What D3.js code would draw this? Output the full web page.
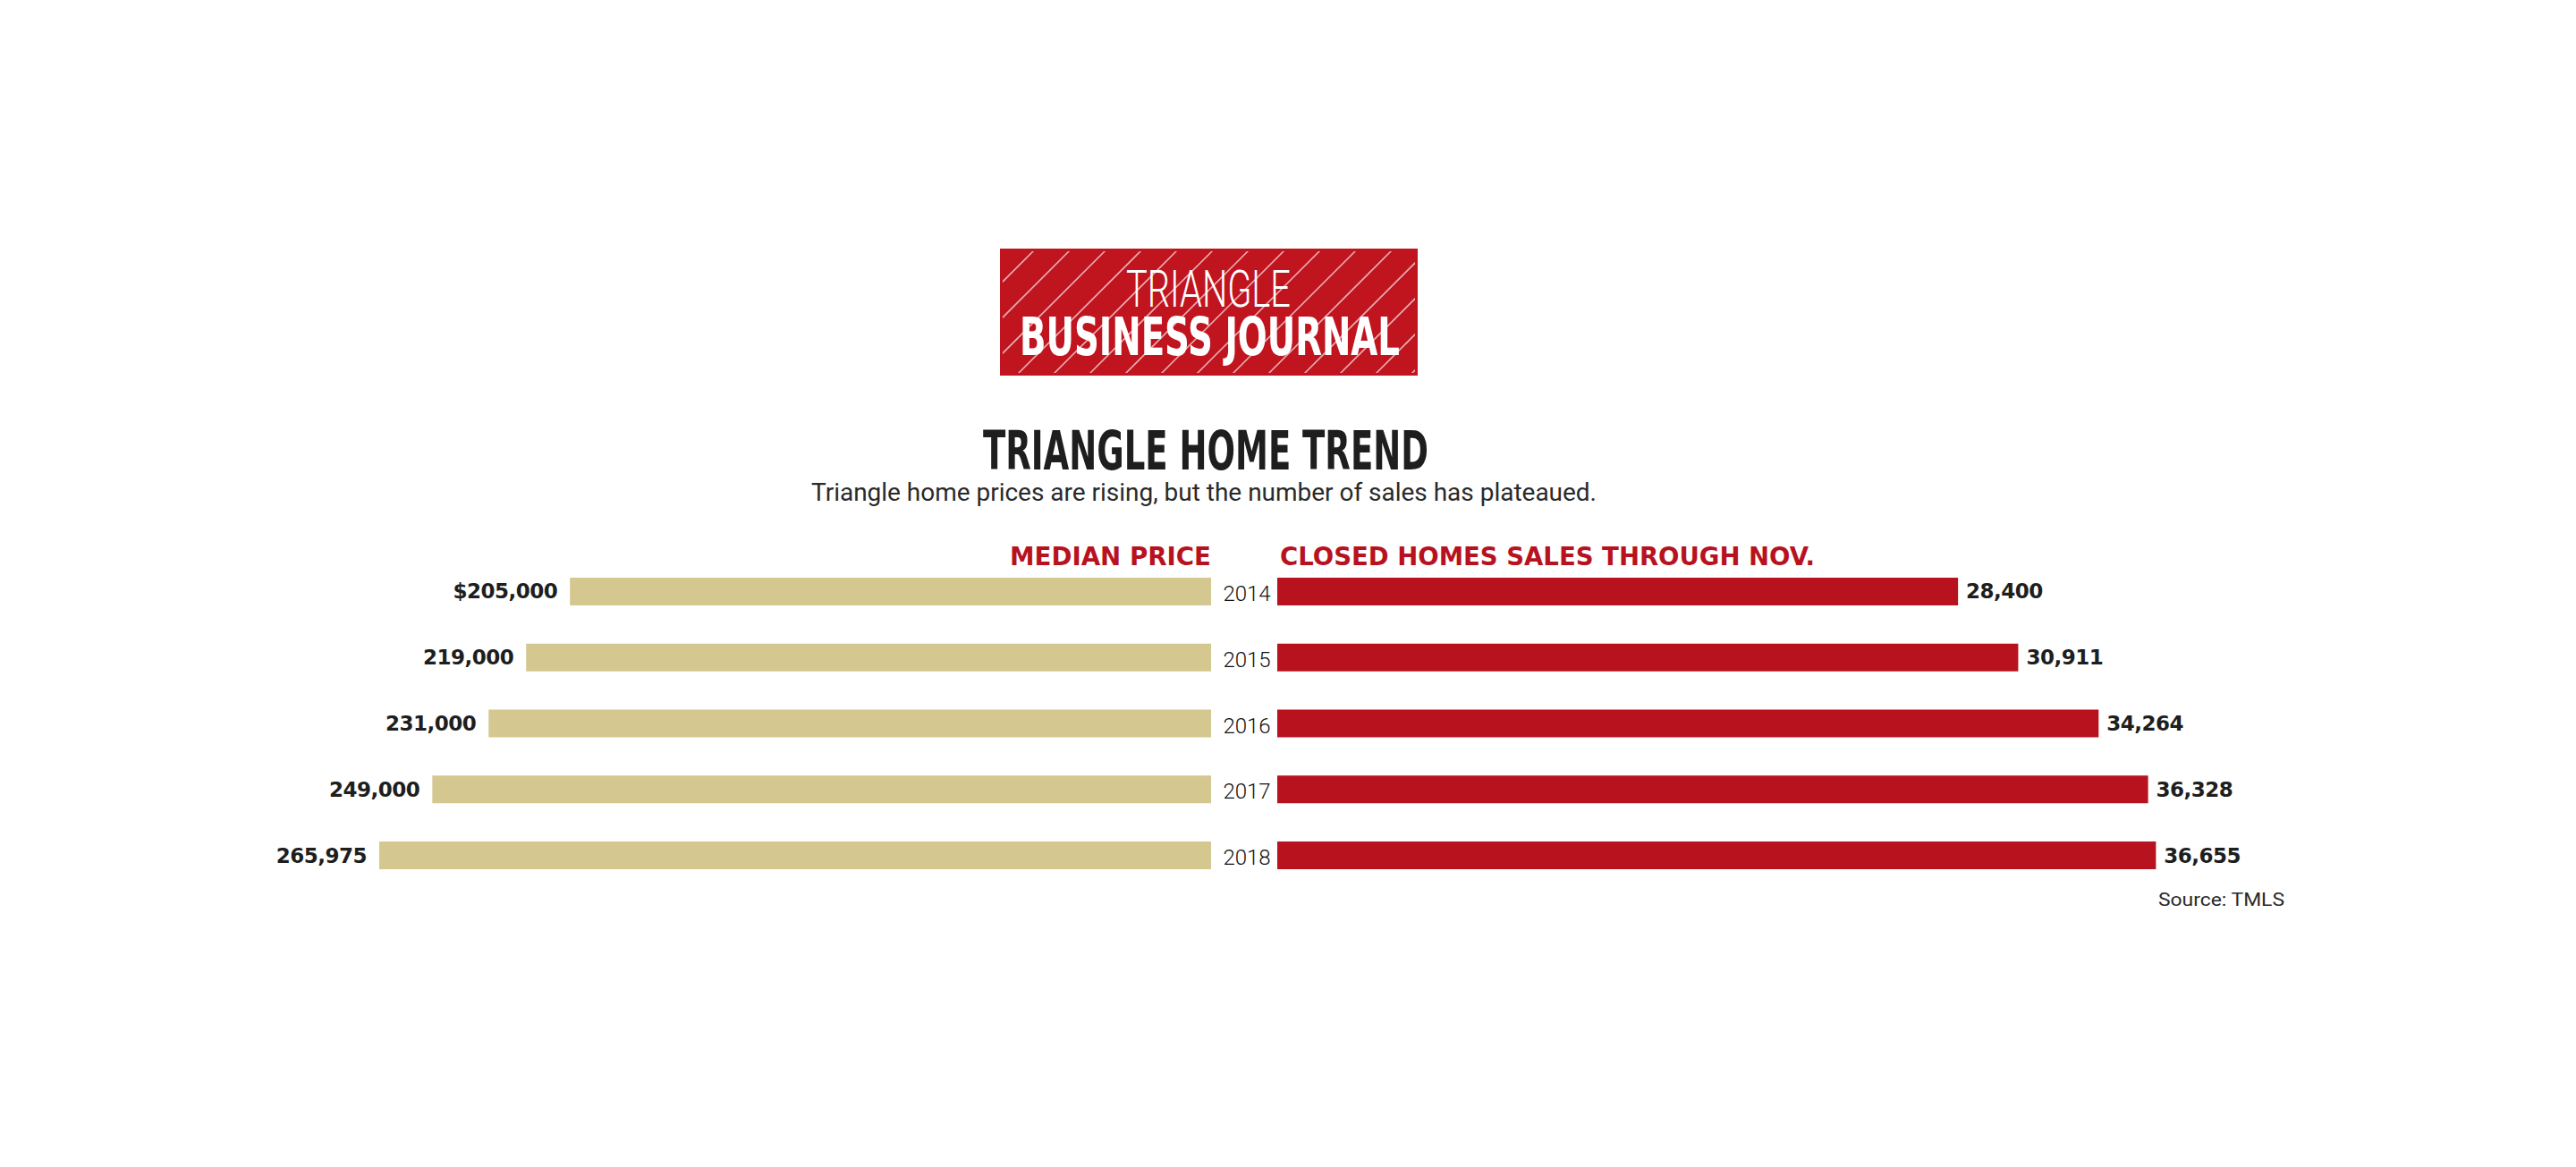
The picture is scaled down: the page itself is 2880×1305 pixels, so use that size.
<!DOCTYPE html>
<html>
<head>
<meta charset="utf-8">
<script src="https://cdn.jsdelivr.net/npm/d3@7"></script>
<style>
    body { margin: 0; background: #ffffff; }
</style>
</head>
<body>
<script>

/*
 * Triangle home trend: mirrored bar chart, median price on the left,
 * closed sales through November on the right.
 */
var years = ['2014', '2015', '2016', '2017', '2018'];
var medianPrice = [205000, 219000, 231000, 249000, 265975];
var closedSales = [28400, 30911, 34264, 36328, 36655];
var priceLabels = ['$205,000', '219,000', '231,000', '249,000', '265,975'];
var salesLabels = ['28,400', '30,911', '34,264', '36,328', '36,655'];

var width = 2880,
    height = 1305,
    // x of the inner ends of both bar groups
    leftEdge = 1354,
    rightEdge = 1428,
    tan = '#d4c790',
    red = '#b8121f',
    logoRed = '#c0141f',
    ink = '#1e1e1e',
    condensed = '"Liberation Sans Narrow", "DejaVu Sans Condensed", Roboto, sans-serif',
    grotesk = 'Roboto, "Noto Sans", sans-serif',
    heavy = '"DejaVu Sans", sans-serif';

var rows = years.map(function(y, i) {
    return {
        year: y,
        price: medianPrice[i],
        sales: closedSales[i],
        priceText: priceLabels[i],
        salesText: salesLabels[i]
    };
});

var svg = d3.select('body')
    .append('svg')
    .attr('width', width)
    .attr('height', height);

svg.append('rect')
    .attr('width', width)
    .attr('height', height)
    .attr('fill', '#ffffff');

// ---- logo block
var logo = { x: 1118, y: 278, w: 467, h: 142 };

svg.append('clipPath')
    .attr('id', 'logo-clip')
    .append('rect')
    .attr('x', logo.x + 3)
    .attr('y', logo.y + 3)
    .attr('width', logo.w - 6)
    .attr('height', logo.h - 6);

svg.append('rect')
    .attr('x', logo.x)
    .attr('y', logo.y)
    .attr('width', logo.w)
    .attr('height', logo.h)
    .attr('fill', logoRed);

var stripes = d3.range(logo.x - logo.h + 22, logo.x + logo.w + logo.h, 40);

svg.append('g')
    .attr('clip-path', 'url(#logo-clip)')
    .selectAll('line')
    .data(stripes)
    .enter()
    .append('line')
    .attr('x1', function(d) { return d; })
    .attr('y1', logo.y)
    .attr('x2', function(d) { return d - logo.h; })
    .attr('y2', logo.y + logo.h)
    .attr('stroke', '#ffffff')
    .attr('stroke-opacity', 0.65)
    .attr('stroke-width', 1.6);

// both logo lines in one text element, they sit tight on each other
var wordmark = svg.append('text')
    .attr('fill', '#ffffff');

wordmark.append('tspan')
    .attr('x', 1259)
    .attr('y', 343)
    .attr('font-family', grotesk)
    .attr('font-weight', 300)
    .attr('font-size', 57)
    .attr('textLength', 184)
    .attr('lengthAdjust', 'spacingAndGlyphs')
    .text('TRIANGLE');

wordmark.append('tspan')
    .attr('x', 1140)
    .attr('y', 397)
    .attr('font-family', condensed)
    .attr('font-weight', 'bold')
    .attr('font-size', 58)
    .attr('textLength', 425)
    .attr('lengthAdjust', 'spacingAndGlyphs')
    .text('BUSINESS JOURNAL');

// ---- titles
svg.append('text')
    .attr('x', 1099)
    .attr('y', 525)
    .attr('font-family', condensed)
    .attr('font-weight', 'bold')
    .attr('font-size', 60)
    .attr('fill', ink)
    .attr('textLength', 498)
    .attr('lengthAdjust', 'spacingAndGlyphs')
    .text('TRIANGLE HOME TREND');

svg.append('text')
    .attr('x', 907)
    .attr('y', 560)
    .attr('font-family', grotesk)
    .attr('font-size', 28)
    .attr('fill', '#2a2a2a')
    .attr('textLength', 878)
    .attr('lengthAdjust', 'spacingAndGlyphs')
    .text('Triangle home prices are rising, but the number of sales has plateaued.');

svg.append('text')
    .attr('x', 1129)
    .attr('y', 632)
    .attr('font-family', heavy)
    .attr('font-weight', 'bold')
    .attr('font-size', 28)
    .attr('fill', red)
    .attr('textLength', 225)
    .attr('lengthAdjust', 'spacingAndGlyphs')
    .text('MEDIAN PRICE');

svg.append('text')
    .attr('x', 1431)
    .attr('y', 632)
    .attr('font-family', heavy)
    .attr('font-weight', 'bold')
    .attr('font-size', 28)
    .attr('fill', red)
    .attr('textLength', 598)
    .attr('lengthAdjust', 'spacingAndGlyphs')
    .text('CLOSED HOMES SALES THROUGH NOV.');

// ---- scales
var y = d3.scaleBand()
    .domain(years)
    .range([646, 972])
    .paddingInner(0.58)
    .paddingOuter(0);

var xPrice = d3.scaleLinear()
    .domain([0, 300000])
    .range([0, 1049]);

var xSales = d3.scaleLinear()
    .domain([0, 40000])
    .range([0, 1072]);

var row = svg.append('g')
    .selectAll('g')
    .data(rows)
    .enter()
    .append('g')
    .attr('transform', function(d) {
        return 'translate(0,' + y(d.year) + ')';
    });

row.append('rect')
    .attr('x', function(d) { return leftEdge - xPrice(d.price); })
    .attr('width', function(d) { return xPrice(d.price); })
    .attr('height', y.bandwidth())
    .attr('fill', tan);

row.append('rect')
    .attr('x', rightEdge)
    .attr('width', function(d) { return xSales(d.sales); })
    .attr('height', y.bandwidth())
    .attr('fill', red);

row.append('text')
    .attr('x', function(d) { return leftEdge - xPrice(d.price) - 14; })
    .attr('y', y.bandwidth() / 2 + 8)
    .attr('text-anchor', 'end')
    .attr('font-family', heavy)
    .attr('font-weight', 'bold')
    .attr('font-size', 23)
    .attr('letter-spacing', -0.5)
    .attr('fill', ink)
    .text(function(d) { return d.priceText; });

row.append('text')
    .attr('x', function(d) { return rightEdge + xSales(d.sales) + 9; })
    .attr('y', y.bandwidth() / 2 + 8)
    .attr('font-family', heavy)
    .attr('font-weight', 'bold')
    .attr('font-size', 23)
    .attr('letter-spacing', -0.5)
    .attr('fill', ink)
    .text(function(d) { return d.salesText; });

row.append('text')
    .attr('x', 1394)
    .attr('y', 26)
    .attr('text-anchor', 'middle')
    .attr('font-family', grotesk)
    .attr('font-weight', 300)
    .attr('font-size', 24)
    .attr('fill', '#111111')
    .text(function(d) { return d.year; });

// ---- source note
svg.append('text')
    .attr('x', 2554)
    .attr('y', 1013)
    .attr('text-anchor', 'end')
    .attr('font-family', grotesk)
    .attr('font-size', 20)
    .attr('fill', '#2a2a2a')
    .attr('textLength', 141)
    .attr('lengthAdjust', 'spacingAndGlyphs')
    .text('Source: TMLS');

</script>
</body>
</html>
